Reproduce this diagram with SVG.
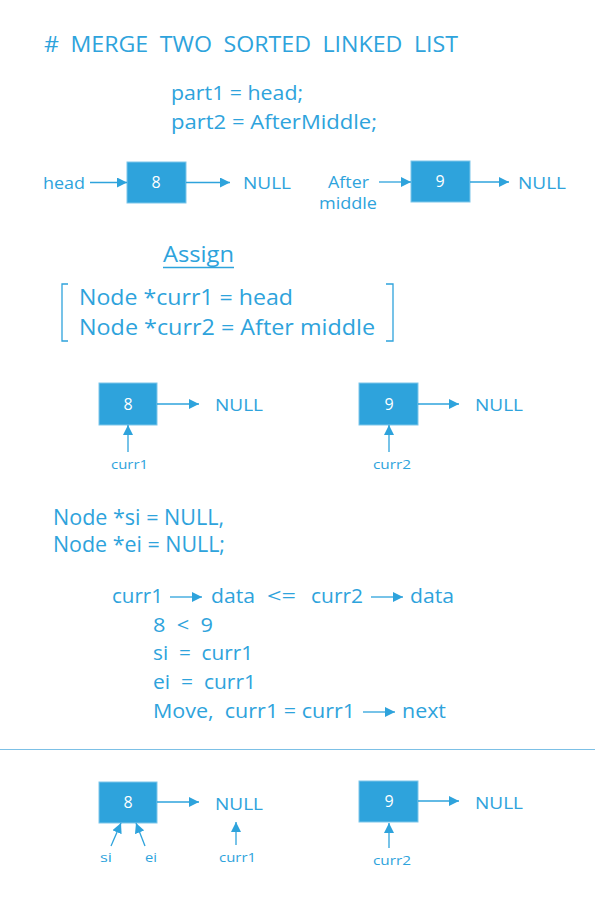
<svg xmlns="http://www.w3.org/2000/svg" width="595" height="900" viewBox="0 0 595 900">
<style>
text{font-family:"Open Sans","Liberation Sans",sans-serif;fill:#2ea3dc}
.box{fill:#2ea3dc;stroke:#7cc6ea;stroke-width:1}
.bt{fill:#fff;font-size:16px;text-anchor:middle}
.ln{stroke:#2ea3dc;stroke-width:1.3;fill:none}
.l17{font-size:17px}
.l14{font-size:13.5px}
.l20{font-size:20px}
</style>
<defs>
<marker id="ah" viewBox="0 0 10 10" refX="10" refY="5" markerWidth="10" markerHeight="10" markerUnits="userSpaceOnUse" orient="auto">
<path d="M0,0 L10,5 L0,10 Z" fill="#2ea3dc"/>
</marker>
</defs>
<rect width="595" height="900" fill="#fff"/>
<text x="44" y="52" font-size="21" textLength="414" lengthAdjust="spacingAndGlyphs" word-spacing="5">#  MERGE  TWO  SORTED  LINKED  LIST</text>
<text x="171" y="100" class="l20" textLength="132" lengthAdjust="spacingAndGlyphs">part1 = head;</text>
<text x="171" y="129" class="l20" textLength="206" lengthAdjust="spacingAndGlyphs">part2 = AfterMiddle;</text>

<g id="row1">
<text x="43" y="189" class="l17" textLength="42" lengthAdjust="spacingAndGlyphs">head</text>
<g id="r1n8"><rect class="box" x="127" y="162" width="59" height="41"/><text class="bt" x="156" y="188">8</text></g>
<text x="243" y="189" class="l17" textLength="48" lengthAdjust="spacingAndGlyphs">NULL</text>
<text x="328" y="188" class="l17" textLength="41" lengthAdjust="spacingAndGlyphs">After</text>
<text x="319" y="209" class="l17" textLength="58" lengthAdjust="spacingAndGlyphs">middle</text>
<g id="r1n9"><rect class="box" x="411" y="161" width="59" height="41"/><text class="bt" x="440" y="187">9</text></g>
<text x="518" y="189" class="l17" textLength="48" lengthAdjust="spacingAndGlyphs">NULL</text>
</g>

<text x="163" y="262" font-size="22" textLength="71" lengthAdjust="spacingAndGlyphs">Assign</text>
<line class="ln" x1="163" y1="267.5" x2="234" y2="267.5"/>
<path class="ln" d="M68,284 H62 V341 H68 M386,284 H393 V341 H386"/>
<text x="79" y="305" font-size="22" textLength="214" lengthAdjust="spacingAndGlyphs">Node *curr1 = head</text>
<text x="79" y="335" font-size="22" textLength="296" lengthAdjust="spacingAndGlyphs">Node *curr2 = After middle</text>

<g id="row2">
<g id="r2n8"><rect class="box" x="99" y="383" width="58" height="42"/><text class="bt" x="128" y="410">8</text></g>
<text x="215" y="411" class="l17" textLength="48" lengthAdjust="spacingAndGlyphs">NULL</text>
<text x="111" y="469" class="l14" textLength="37" lengthAdjust="spacingAndGlyphs">curr1</text>
<g id="r2n9"><rect class="box" x="359" y="383" width="59" height="42"/><text class="bt" x="389" y="410">9</text></g>
<text x="475" y="411" class="l17" textLength="48" lengthAdjust="spacingAndGlyphs">NULL</text>
<text x="373" y="469" class="l14" textLength="38" lengthAdjust="spacingAndGlyphs">curr2</text>
</g>

<text x="53" y="525" font-size="21" textLength="171" lengthAdjust="spacingAndGlyphs">Node *si = NULL,</text>
<text x="53" y="552" font-size="21" textLength="172" lengthAdjust="spacingAndGlyphs">Node *ei = NULL;</text>

<text x="112" y="603" font-size="20" textLength="51" lengthAdjust="spacingAndGlyphs">curr1</text>
<text x="211" y="603" font-size="20" textLength="44" lengthAdjust="spacingAndGlyphs">data</text>
<text x="267" y="603" font-size="20" textLength="29" lengthAdjust="spacingAndGlyphs">&lt;=</text>
<text x="311" y="603" font-size="20" textLength="52" lengthAdjust="spacingAndGlyphs">curr2</text>
<text x="410" y="603" font-size="20" textLength="44" lengthAdjust="spacingAndGlyphs">data</text>
<text x="153" y="632" font-size="20" textLength="60" lengthAdjust="spacingAndGlyphs" xml:space="preserve">8  &lt;  9</text>
<text x="153" y="660" font-size="20" textLength="100" lengthAdjust="spacingAndGlyphs" xml:space="preserve">si  =  curr1</text>
<text x="153" y="689" font-size="20" textLength="103" lengthAdjust="spacingAndGlyphs" xml:space="preserve">ei  =  curr1</text>
<text x="153" y="718" font-size="20" textLength="202" lengthAdjust="spacingAndGlyphs" xml:space="preserve">Move,  curr1 = curr1</text>
<text x="402" y="718" font-size="20" textLength="44" lengthAdjust="spacingAndGlyphs">next</text>

<line x1="0" y1="749.5" x2="595" y2="749.5" stroke="#7cc0e6" stroke-width="1"/>

<g id="row3">
<g id="r3n8"><rect class="box" x="99" y="782" width="58" height="41"/><text class="bt" x="128" y="808">8</text></g>
<text x="215" y="810" class="l17" textLength="48" lengthAdjust="spacingAndGlyphs">NULL</text>
<text x="100" y="862" class="l14" textLength="12" lengthAdjust="spacingAndGlyphs">si</text>
<text x="145" y="862" class="l14" textLength="12" lengthAdjust="spacingAndGlyphs">ei</text>
<text x="219" y="862" class="l14" textLength="37" lengthAdjust="spacingAndGlyphs">curr1</text>
<g id="r3n9"><rect class="box" x="359" y="781" width="59" height="41"/><text class="bt" x="389" y="807">9</text></g>
<text x="475" y="809" class="l17" textLength="48" lengthAdjust="spacingAndGlyphs">NULL</text>
<text x="373" y="865" class="l14" textLength="38" lengthAdjust="spacingAndGlyphs">curr2</text>
</g>

<g id="connectors">
<line class="ln" x1="90" y1="182.5" x2="127" y2="182.5" marker-end="url(#ah)"/>
<line class="ln" x1="186" y1="182.5" x2="230" y2="182.5" marker-end="url(#ah)"/>
<line class="ln" x1="379" y1="182" x2="411" y2="182" marker-end="url(#ah)"/>
<line class="ln" x1="470" y1="182" x2="509" y2="182" marker-end="url(#ah)"/>
<line class="ln" x1="157" y1="404" x2="199" y2="404" marker-end="url(#ah)"/>
<line class="ln" x1="418" y1="404" x2="459" y2="404" marker-end="url(#ah)"/>
<line class="ln" x1="128" y1="452" x2="128" y2="425" marker-end="url(#ah)"/>
<line class="ln" x1="389" y1="452" x2="389" y2="425" marker-end="url(#ah)"/>
<line class="ln" x1="170" y1="597" x2="202" y2="597" marker-end="url(#ah)"/>
<line class="ln" x1="371" y1="597" x2="403" y2="597" marker-end="url(#ah)"/>
<line class="ln" x1="363" y1="712" x2="395" y2="712" marker-end="url(#ah)"/>
<line class="ln" x1="157" y1="802" x2="199" y2="802" marker-end="url(#ah)"/>
<line class="ln" x1="418" y1="801" x2="459" y2="801" marker-end="url(#ah)"/>
<line class="ln" x1="111" y1="846" x2="121" y2="823" marker-end="url(#ah)"/>
<line class="ln" x1="145" y1="846" x2="136" y2="823" marker-end="url(#ah)"/>
<line class="ln" x1="236" y1="845" x2="236" y2="822" marker-end="url(#ah)"/>
<line class="ln" x1="389" y1="848" x2="389" y2="823" marker-end="url(#ah)"/>
</g>
</svg>
